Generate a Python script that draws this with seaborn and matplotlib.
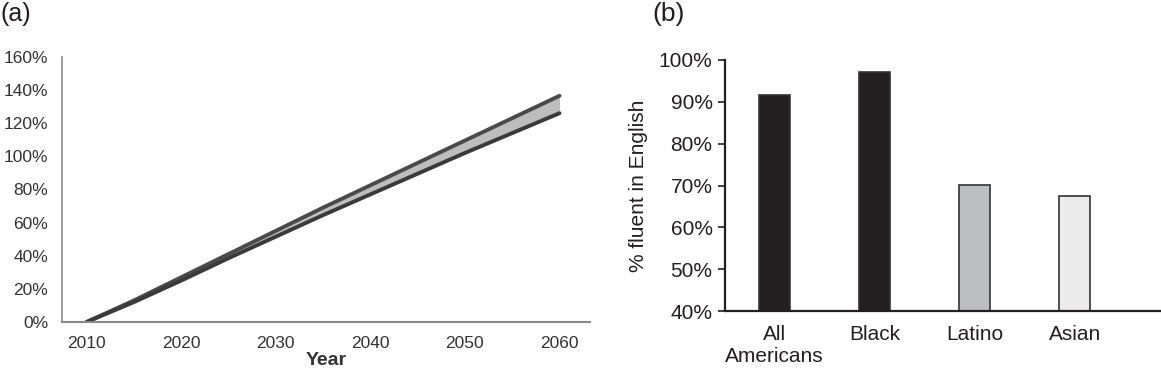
import numpy as np
import pandas as pd
import matplotlib
matplotlib.use("Agg")
import matplotlib.pyplot as plt
import seaborn as sns
from matplotlib.ticker import PercentFormatter

# panel (a): projected growth band
years = [2010, 2015, 2020, 2025, 2030, 2035, 2040, 2045, 2050, 2055, 2060]
upper = [0, 13, 27, 41, 55, 69, 82.5, 96, 109.5, 123, 136.5]
lower = [0, 12, 25, 38.5, 51.5, 64.5, 77, 89.5, 102, 114, 126]
year_ticks = [2010, 2020, 2030, 2040, 2050, 2060]

# panel (b): English fluency by group
groups = ["All\nAmericans", "Black", "Latino", "Asian"]
fluent = [91.5, 97.2, 70.2, 67.4]
bar_colors = ["#231f20", "#231f20", "#bdbec0", "#ebebeb"]

sns.set_style("white")
plt.rcParams["font.family"] = ["Liberation Sans", "DejaVu Sans"]

fig = plt.figure(figsize=(11.61, 3.74), dpi=100)
ax1 = fig.add_axes([0.0534, 0.139, 0.4546, 0.709])
ax2 = fig.add_axes([0.6245, 0.168, 0.3755, 0.672])

# ---- (a)
df = pd.DataFrame({"year": years, "upper": upper, "lower": lower})
ax1.fill_between(df["year"], df["lower"], df["upper"], color="#bdbdbd", lw=0)
sns.lineplot(data=df, x="year", y="upper", ax=ax1, color="#4a4a4a", lw=2.8)
sns.lineplot(data=df, x="year", y="lower", ax=ax1, color="#3a3a3a", lw=2.8)
ax1.set_xlim(2007.4, 2063.2)
ax1.set_ylim(0, 160)
ax1.set_xticks(year_ticks)
ax1.set_yticks(range(0, 161, 20))
ax1.yaxis.set_major_formatter(PercentFormatter(decimals=0))
ax1.tick_params(axis="both", length=0, labelsize=12.5, labelcolor="#333333")
ax1.tick_params(axis="x", pad=10)
ax1.tick_params(axis="y", pad=10)
ax1.set_xlabel("Year", fontsize=14, fontweight="bold", color="#333333", labelpad=1)
ax1.set_ylabel("")
for side in ["top", "right"]:
    ax1.spines[side].set_visible(False)
ax1.spines["left"].set_color("#8a8a8a")
ax1.spines["bottom"].set_color("#8a8a8a")
ax1.spines["left"].set_linewidth(1.2)
ax1.spines["bottom"].set_linewidth(1.5)

# ---- (b)
bdf = pd.DataFrame({"group": groups, "fluent": fluent})
sns.barplot(data=bdf, x="group", y="fluent", hue="group", palette=bar_colors,
            legend=False, width=0.31, ax=ax2, edgecolor="#333333", linewidth=1.2,
            saturation=1)
ax2.set_xlim(-0.49, 3.86)
ax2.set_ylim(40, 100)
ax2.set_yticks(range(40, 101, 10))
ax2.yaxis.set_major_formatter(PercentFormatter(decimals=0))
ax2.tick_params(axis="y", length=5, width=1.2, color="#231f20", direction="out",
                labelsize=15, labelcolor="#231f20", left=True, pad=4)
ax2.tick_params(axis="x", length=0, labelsize=15, labelcolor="#231f20", pad=10)
ax2.set_xlabel("")
ax2.set_ylabel("% fluent in English", fontsize=15, color="#231f20", labelpad=8)
for side in ["top", "right"]:
    ax2.spines[side].set_visible(False)
for side in ["left", "bottom"]:
    ax2.spines[side].set_color("#231f20")
    ax2.spines[side].set_linewidth(1.6)

fig.text(0.0, 0.995, "(a)", fontsize=18, va="top", ha="left", color="#231f20")
fig.text(0.562, 0.995, "(b)", fontsize=19, va="top", ha="left", color="#231f20")

fig.savefig("out.png", dpi=100)
